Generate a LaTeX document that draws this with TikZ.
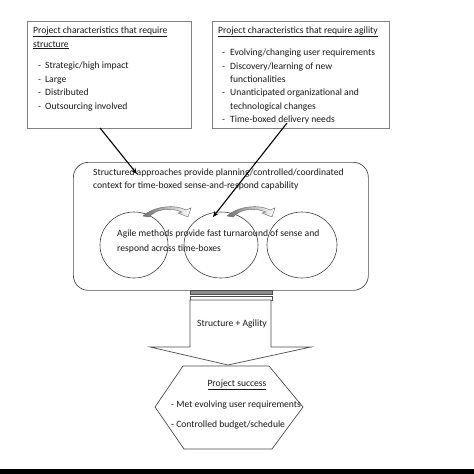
\documentclass[tikz,border=0pt]{standalone}
\usepackage{fontspec}
\setmainfont{Carlito}
\usetikzlibrary{shapes.geometric,arrows.meta,calc}
\begin{document}
\begin{tikzpicture}[x=1pt,y=-1pt,
  font=\fontsize{9.6}{13.5}\selectfont,
  txt/.style={anchor=base west, inner sep=0pt, text=black!90},
  ctxt/.style={anchor=base, inner sep=0pt, text=black!90},
  box/.style={draw=black!50, line width=0.8pt, inner sep=0pt, anchor=north west},
  bigbox/.style={draw=black!70, line width=0.7pt, rounded corners=15pt, inner sep=0pt, anchor=north west},
  circ/.style={ellipse, draw=black!75, line width=0.6pt, inner sep=0pt},
  conn/.style={draw=black, line width=1.1pt, -{Stealth[length=6pt,width=5pt]}},
  curvarr/.style={left color=black!55, right color=white, draw=black!60, line width=0.4pt},
  outl/.style={draw=black!70, line width=0.7pt, fill=white}]
\useasboundingbox (0,0) rectangle (474,474);
\fill[white] (0,0) rectangle (474,474);
\fill[black] (0,469) rectangle (474,474);

% top boxes
\node[box, minimum width=164pt, minimum height=107pt] (lbox) at (27,21) {};
\node[txt] (lt1) at (33,33) {\underline{Project characteristics that require}};
\node[txt] (lt2) at (33,47) {\underline{structure}};
\node[txt] (ld1) at (38,68) {-};
\node[txt] (lb1) at (45,68) {Strategic/high impact};
\node[txt] (ld2) at (38,82) {-};
\node[txt] (lb2) at (45,82) {Large};
\node[txt] (ld3) at (38,95) {-};
\node[txt] (lb3) at (45,95) {Distributed};
\node[txt] (ld4) at (38,109) {-};
\node[txt] (lb4) at (45,109) {Outsourcing involved};

\node[box, minimum width=177pt, minimum height=107pt] (rbox) at (212,21) {};
\node[txt] (rt1) at (218,33) {\underline{Project characteristics that require agility}};
\node[txt] (rd1) at (222,55) {-};
\node[txt] (rb1) at (230,55) {Evolving/changing user requirements};
\node[txt] (rd2) at (222,69) {-};
\node[txt] (rb2) at (230,69) {Discovery/learning of new};
\node[txt] (rb2b) at (230,82) {functionalities};
\node[txt] (rd3) at (222,95) {-};
\node[txt] (rb3) at (230,95) {Unanticipated organizational and};
\node[txt] (rb3b) at (230,109) {technological changes};
\node[txt] (rd4) at (222,122) {-};
\node[txt] (rb4) at (230,122) {Time-boxed delivery needs};

% big rounded box
\node[bigbox, minimum width=295pt, minimum height=128pt] (big) at (73,162) {};
\node[txt] (bt1) at (93,175) {Structured approaches provide planning/controlled/coordinated};
\node[txt] (bt2) at (93,188) {context for time-boxed sense-and-respond capability};

% circles
\node[circ, minimum width=68pt, minimum height=66pt] (c1) at (134,245) {};
\node[circ, minimum width=74pt, minimum height=66pt] (c2) at (221,245) {};
\node[circ, minimum width=70pt, minimum height=66pt] (c3) at (302,245) {};

% curved arrows
\shade[curvarr] (143,216) .. controls (151,208) and (172,203) .. (186,210)
  -- (191,208) -- (188,217) -- (178,213) -- (182,212)
  .. controls (170,207) and (156,209) .. (149,217) -- cycle;
\begin{scope}[shift={(84,0)}]
\shade[curvarr] (143,216) .. controls (151,208) and (172,203) .. (186,210)
  -- (191,208) -- (188,217) -- (178,213) -- (182,212)
  .. controls (170,207) and (156,209) .. (149,217) -- cycle;
\end{scope}

\node[txt] (at1) at (117,236) {Agile methods provide fast turnaround of sense and};
\node[txt] (at2) at (117,251) {respond across time-boxes};

% connectors
\coordinate (s1) at (100,128);
\coordinate (e1) at (137,174);
\coordinate (s2) at (287,123);
\coordinate (e2) at (213,217);
\draw[conn] (s1) -- (e1);
\draw[conn] (s2) -- (e2);

% block arrow
\fill[black!45] (190,290) rectangle (272,294);
\draw[black!70, line width=0.6pt] (190,290) rectangle (272,294);
\draw[outl] (190,296) rectangle (272,300);
\draw[outl] (190,300) -- (190,347) -- (150,347) -- (228,365) -- (311,347) -- (271,347) -- (271,300) -- cycle;
\node[ctxt] (sa) at (232,326) {Structure + Agility};

% hexagon
\draw[outl] (183,366) -- (269,366) -- (303,407) -- (272,449) -- (184,449) -- (155,407) -- cycle;
\node[ctxt] (ps) at (237,386) {\underline{Project success}};
\node[txt] (p1) at (171,407) {- Met evolving user requirements};
\node[txt] (p2) at (171,427) {- Controlled budget/schedule};
\end{tikzpicture}
\end{document}
